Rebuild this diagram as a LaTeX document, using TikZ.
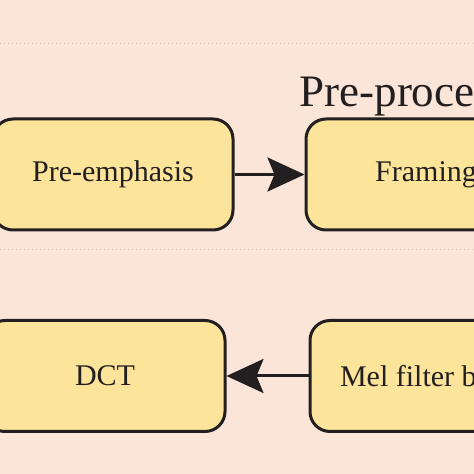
\documentclass[tikz,border=0pt]{standalone}
\usepackage{fontspec}
\setmainfont{Liberation Serif}
\usepackage{xcolor}
\usepackage{tikz}
\usetikzlibrary{positioning,arrows.meta}

\definecolor{PageBg}{HTML}{FAE5D8}
\definecolor{BoxFill}{HTML}{FCE59B}
\definecolor{InkDark}{HTML}{231F20}
\definecolor{DotGrey}{HTML}{C9B9AF}

\tikzset{
  stage/.style={draw=InkDark, fill=BoxFill, line width=3pt, rounded corners=20pt,
    minimum width=240pt, minimum height=111pt, inner sep=0pt,
    font=\fontsize{30}{36}\selectfont, text=InkDark},
  flow/.style={line width=3pt, InkDark, -{Stealth[length=37pt,width=34pt,inset=7pt]}},
  sep/.style={DotGrey, line width=1pt, dash pattern=on 1pt off 3pt}
}

\begin{document}
\begin{tikzpicture}[x=1pt,y=1pt]
\useasboundingbox (0,0) rectangle (474,474);
\fill[PageBg] (0,0) rectangle (474,474);
\draw[sep] (0,430) -- (474,430);
\draw[sep] (0,224) -- (474,224);
\node[anchor=base west, text=InkDark, font=\fontsize{45}{52}\selectfont] (title) at (296,367) {Pre-processing};
\node[stage] (pre) at (113,299.5) {Pre-emphasis};
\node[stage, right=70pt of pre] (fram) {Framing};
\node[stage] (dct) at (105,98) {DCT};
\node[stage, right=82pt of dct] (mel) {Mel filter bank};
\draw[flow] (pre) -- (fram);
\draw[flow] (mel) -- (dct);
\end{tikzpicture}
\end{document}
